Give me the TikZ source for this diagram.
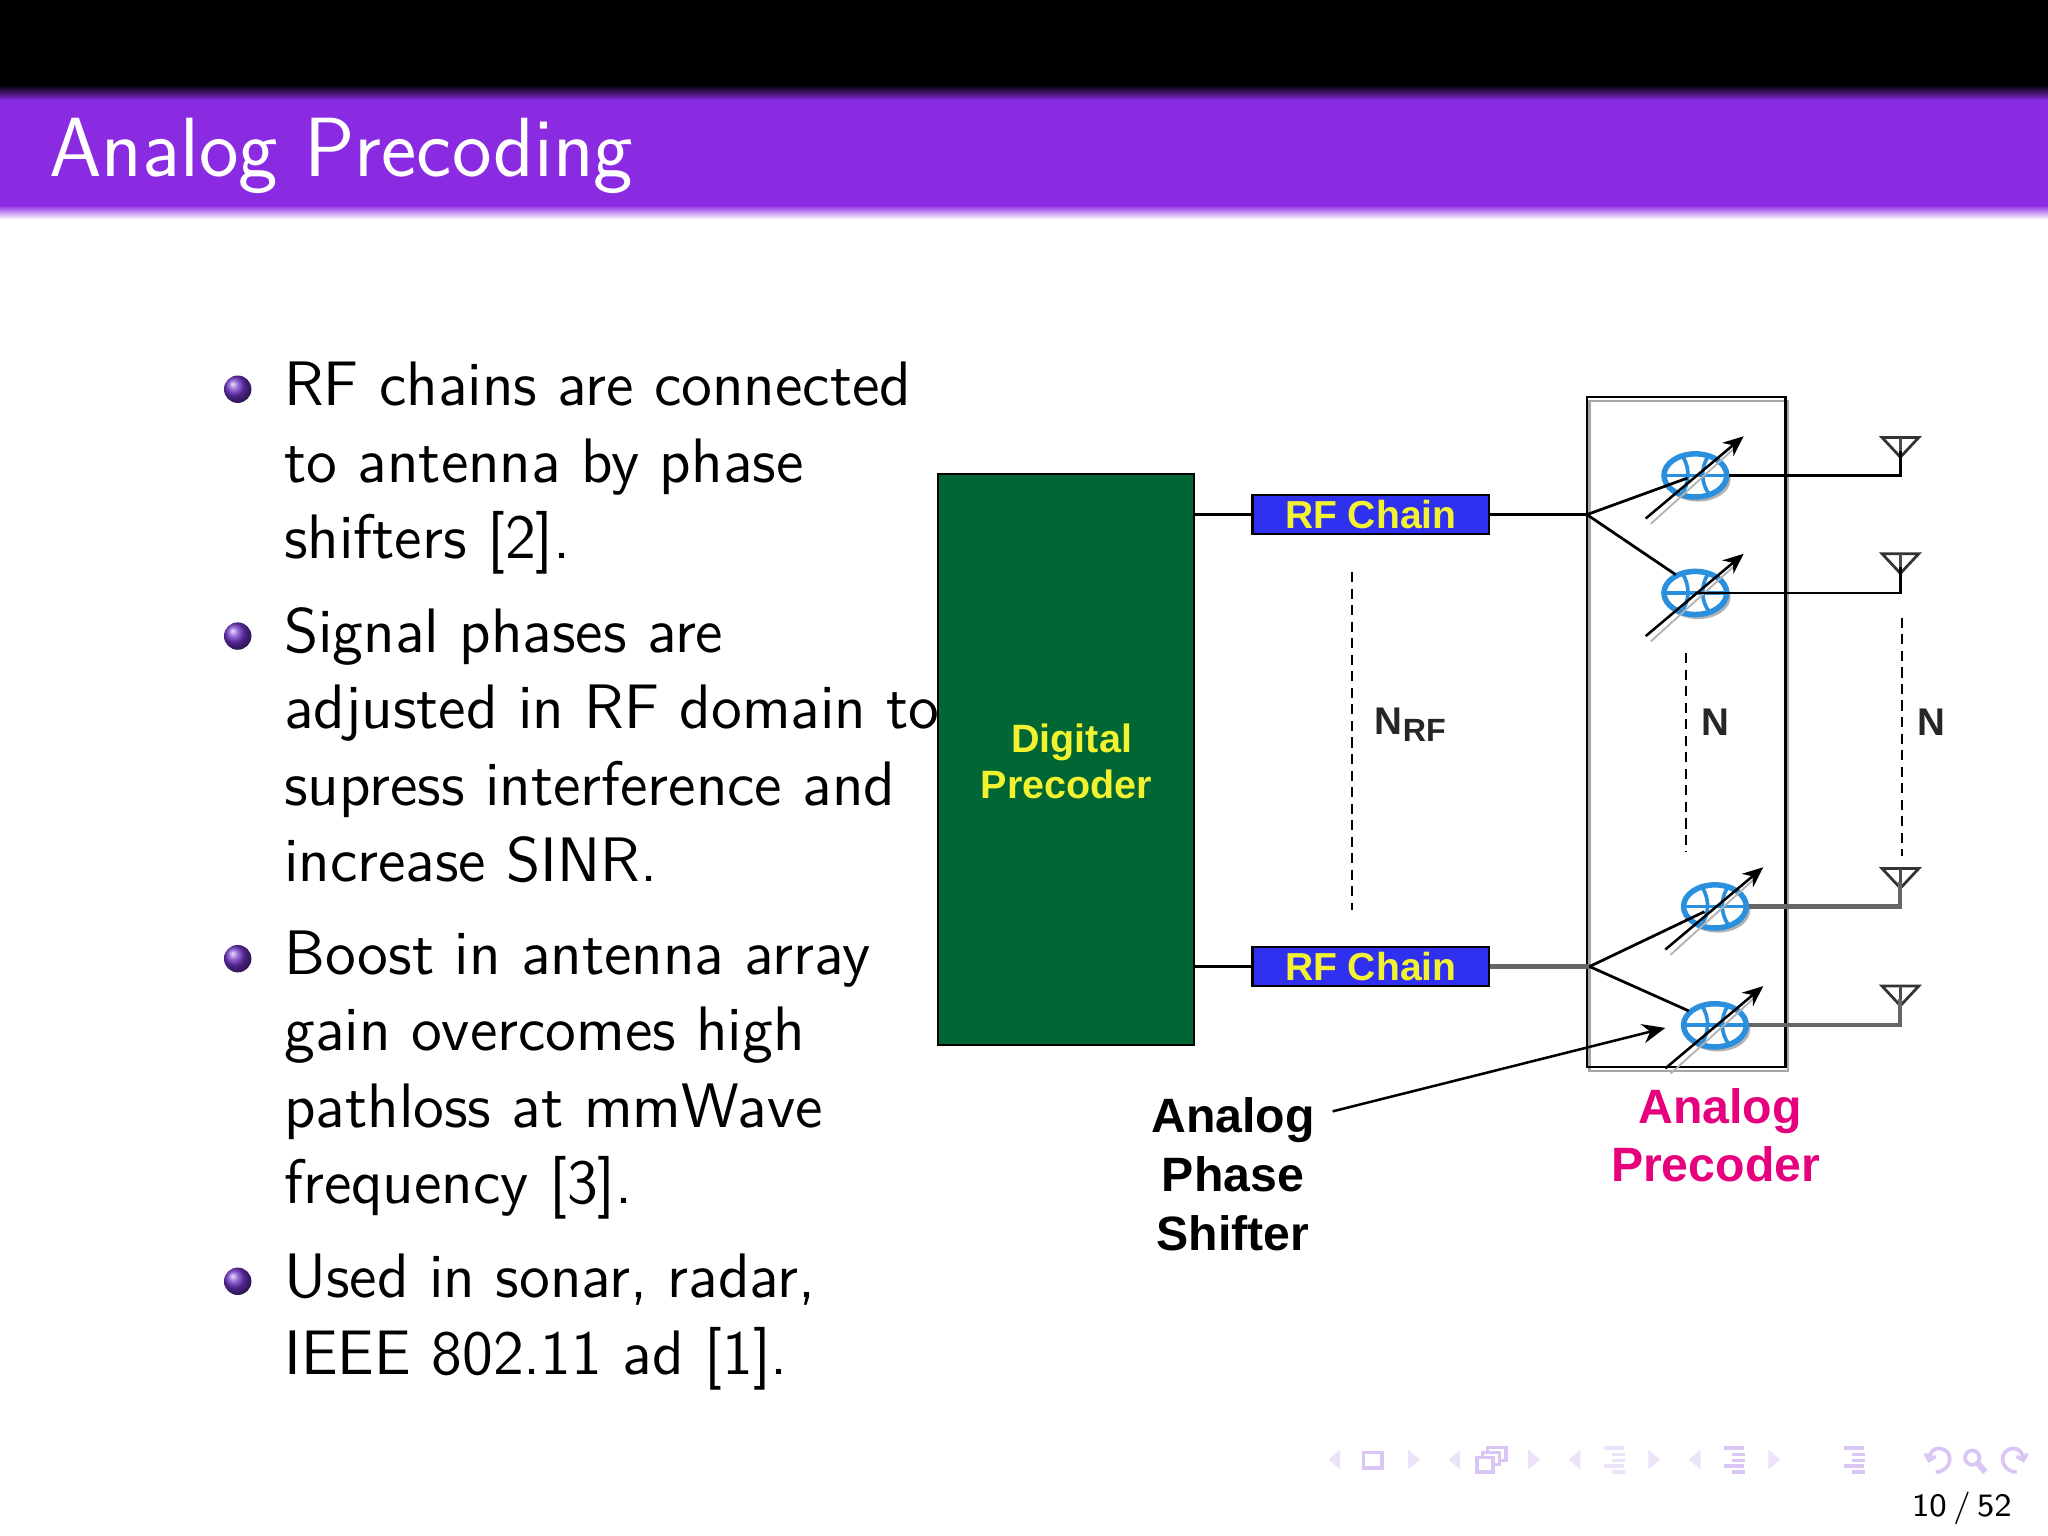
\documentclass[tikz,border=0pt]{standalone}
\usepackage{fontspec}
\usetikzlibrary{arrows.meta,shapes.geometric,calc}
\newfontfamily\arialf{Liberation Sans}
\definecolor{bandpurple}{HTML}{8A2BE2}
\definecolor{precgreen}{HTML}{006633}
\definecolor{chainblue}{HTML}{3030F0}
\definecolor{labyellow}{HTML}{F2F230}
\definecolor{pinklab}{HTML}{E6007E}
\definecolor{psblue}{HTML}{2A8FDC}
\definecolor{navc}{HTML}{DAC6F4}
\definecolor{navl}{HTML}{ECE2F9}
\definecolor{ballc}{HTML}{7034C8}
\tikzset{
  bodytext/.style={anchor=north west,inner sep=0pt,align=left,font=\sffamily\fontsize{13.68pt}{16.62pt}\selectfont},
  titletext/.style={anchor=base west,inner sep=0pt,text=white,font=\sffamily\fontsize{18.3pt}{22pt}\selectfont},
  chainbox/.style={draw=black,fill=chainblue,line width=0.5pt,minimum width=1.81cm,minimum height=0.3cm,inner sep=0pt,text=labyellow,font=\arialf\bfseries\fontsize{8.5pt}{10pt}\selectfont},
  greenbox/.style={draw=black,fill=precgreen,line width=0.5pt,minimum width=1.96cm,minimum height=4.37cm,inner sep=0pt},
  wire/.style={line width=0.5pt,draw=black},
  wiregray/.style={line width=0.9pt,draw=black!60},
  phase/.style={ellipse,draw=psblue,line width=1.2pt,minimum width=0.48cm,minimum height=0.33cm,inner sep=0pt,fill=white},
  tune/.style={line width=0.55pt,-{Stealth[length=4.5pt,width=3.8pt]}},
  boldlab/.style={inner sep=0pt,align=center,font=\arialf\bfseries\fontsize{10.5pt}{12.6pt}\selectfont},
  smalllab/.style={inner sep=0pt,text=black!85,font=\arialf\bfseries\fontsize{8.4pt}{10pt}\selectfont},
}
\newcommand{\psdraw}[2]{%
  \fill[black!30] (#1+2,#2+3) ellipse [x radius=25,y radius=17];
  \node[phase] (#1#2) at (#1,#2) {};
}
\newcommand{\psinner}[2]{%
  \draw[psblue,line width=0.8pt] (#1-24,#2) -- (#1+24,#2);
  \draw[psblue,line width=0.8pt] (#1-10,#2-15) .. controls (#1-4,#2-6) and (#1-4,#2+6) .. (#1-11,#2+15);
  \draw[psblue,line width=0.8pt] (#1+10,#2-15) .. controls (#1+4,#2-6) and (#1+4,#2+6) .. (#1+11,#2+15);
  \draw[black!30,line width=0.4pt] (#1-34,#2+37) -- (#1+29,#2-20);
  \draw[tune] (#1-38,#2+33) -- (#1+37,#2-30);
}
\newcommand{\antenna}[2]{%
  \draw[line width=0.6pt,black!80] (#1-14,#2) -- (#1+14,#2) -- (#1,#2+15) -- cycle;
  \draw[line width=0.6pt,black!70] (#1,#2) -- (#1,#2+15);
}
\newcommand{\navleft}[1]{\fill[navl] (#1+4,1110) -- (#1+4,1125) -- (#1-5,1117.5) -- cycle;}
\newcommand{\navright}[1]{\fill[navl] (#1-4,1110) -- (#1-4,1125) -- (#1+5,1117.5) -- cycle;}
\newcommand{\navlines}[2]{%
  \foreach \a/\b/\yy in {-8/7/-8.5,-2/8/-3.5,-2/8/1,-8/7/5.5,-2/8/10}{%
    \draw[#2,line width=0.75pt] (#1+\a,1117+\yy) -- (#1+\b,1117+\yy);}
}
\begin{document}
\begin{tikzpicture}[x=0.01cm,y=-0.01cm]
\useasboundingbox (0,0) rectangle (1568,1176);
\fill[white] (0,0) rectangle (1568,1176);
% header
\fill[black] (0,0) rectangle (1568,65);
\shade[top color=black,bottom color=bandpurple] (0,65) rectangle (1568,77);
\fill[bandpurple] (0,76.5) rectangle (1568,157);
\shade[top color=bandpurple,bottom color=white] (0,157) rectangle (1568,168);
\node[titletext] (title) at (37,135) {Analog Precoding};
% bullets
\foreach \yy in {298,487,734,981}{\shade[ball color=ballc] (182,\yy) circle [radius=10.5];}
\node[bodytext] (b1) at (217,276.5) {RF chains are connected\\to antenna by phase\\shifters [2].};
\node[bodytext] (b2) at (217,464.5) {Signal phases are\\adjusted in RF domain to\\supress interference and\\increase SINR.};
\node[bodytext] (b3) at (217,712) {Boost in antenna array\\gain overcomes high\\pathloss at mmWave\\frequency [3].};
\node[bodytext] (b4) at (217,959.5) {Used in sonar, radar,\\IEEE 802.11 ad [1].};
% diagram
\node[greenbox] (dp) at (816,581.5) {};
\node[inner sep=0pt,align=center,text=labyellow,font=\arialf\bfseries\fontsize{8.6pt}{10pt}\selectfont] (dptext) at (816.5,583) {\hspace*{0.08cm}Digital\\Precoder};
\node[chainbox] (rf1) at (1049.5,394) {RF Chain};
\node[chainbox] (rf2) at (1049.5,740) {RF Chain};
\draw[wire] (rf1.west) -- (rf1.west -| dp.east);
\draw[wire] (rf2.west) -- (rf2.west -| dp.east);
% precoder frame
\draw[black!35,line width=0.5pt] (1217,307) rectangle (1369,820);
\draw[black,line width=0.55pt] (1215,304) rectangle (1367,817);
\coordinate (split1) at (1215,394);
\coordinate (split2) at (1217,740);
\draw[wire] (rf1.east) -- (split1);
\draw[wiregray] (rf2.east) -- (split2);
% phase shifters
\psdraw{1298}{364}
\psdraw{1298}{454}
\psdraw{1313}{694}
\psdraw{1313}{785}
\psinner{1298}{364}
\psinner{1298}{454}
\psinner{1313}{694}
\psinner{1313}{785}
\draw[line width=0.6pt] (split1) -- ($(1298364)+(-6,2)$);
\draw[line width=0.6pt] (split1) -- ($(1298454)+(-15,-14)$);
\draw[line width=0.6pt] (split2) -- ($(1313694)+(-8,4)$);
\draw[line width=0.6pt] (split2) -- ($(1313785)+(-20,-11)$);
% antennas
\coordinate (ant1) at (1455,335);
\coordinate (ant2) at (1455,424);
\coordinate (ant3) at (1455,665);
\coordinate (ant4) at (1455,755);
\antenna{1455}{335}
\antenna{1455}{424}
\antenna{1455}{665}
\antenna{1455}{755}
\draw[wire] (1298364.east) -| ($(ant1)+(0,10)$);
\draw[wire] (1298454.center) -| ($(ant2)+(0,10)$);
\draw[wiregray] (1313694.east) -| ($(ant3)+(0,10)$);
\draw[wiregray] (1313785.east) -| ($(ant4)+(0,10)$);
% dashed
\coordinate (d1a) at (1035,438); \coordinate (d1b) at (1035,697);
\coordinate (d2a) at (1291,500); \coordinate (d2b) at (1291,652);
\coordinate (d3a) at (1456,473); \coordinate (d3b) at (1456,655);
\draw[line width=0.45pt,dash pattern=on 2.2pt off 1.4pt] (d1a) -- (d1b);
\draw[line width=0.45pt,dash pattern=on 2.2pt off 1.4pt] (d2a) -- (d2b);
\draw[line width=0.45pt,dash pattern=on 2.2pt off 1.4pt] (d3a) -- (d3b);
% labels
\node[smalllab,anchor=base west] (nrf) at (1052,562) {N\raisebox{-1.6pt}{\fontsize{7pt}{9pt}\selectfont RF}};
\node[smalllab] (n1) at (1313,553) {N};
\node[smalllab] (n2) at (1479,553) {N};
\node[boldlab,anchor=center,font=\arialf\bfseries\fontsize{10.5pt}{12.75pt}\selectfont] (aps) at (944,899) {Analog\\Phase\\Shifter};
\node[boldlab,text=pinklab,anchor=center] (apc) at (1313.5,869) {\hspace*{0.07cm}Analog\\Precoder};
\draw[line width=0.55pt,-{Stealth[length=5pt,width=4.2pt]}] ($(aps.north east)+(13,11)$) -- ($(1313785)+(-38,2)$);
% nav symbols
\navleft{1022}\navright{1082}
\draw[navc,line width=0.8pt] (1044,1112) rectangle (1058,1124);
\navleft{1114}\navright{1174}
\draw[navc,line width=0.8pt] (1131,1116) rectangle (1143,1127);
\draw[navc,line width=0.7pt] (1135,1116) -- (1135,1112) -- (1148,1112) -- (1148,1121) -- (1143,1121);
\draw[navc,line width=0.7pt] (1139,1112) -- (1139,1108.5) -- (1153,1108.5) -- (1153,1118) -- (1148,1118);
\navleft{1206}\navright{1266}
\navlines{1236}{navl}
\navleft{1298}\navright{1358}
\navlines{1328}{navc}
\navlines{1420}{navc}
\draw[navc,line width=0.8pt] (1482,1127) .. controls (1495,1127) and (1497,1109) .. (1484,1109) .. controls (1480,1109) and (1478,1112) .. (1477,1116);
\draw[navc,line width=0.8pt] (1474,1113) -- (1477,1118) -- (1482,1115);
\draw[navc,line width=0.8pt] (1510,1116) circle [radius=5.5];
\draw[navc,line width=1.3pt] (1514,1120) -- (1520,1127);
\draw[navc,line width=0.8pt] (1544,1127) .. controls (1531,1127) and (1529,1109) .. (1542,1109) .. controls (1546,1109) and (1548,1112) .. (1549,1116);
\draw[navc,line width=0.8pt] (1552,1113) -- (1549,1118) -- (1544,1115);
\node[anchor=base east,inner sep=0pt,font=\sffamily\fontsize{7.1pt}{9pt}\selectfont] (page) at (1541,1161) {10\hspace{0.05cm}/\hspace{0.05cm}52};
\end{tikzpicture}
\end{document}
